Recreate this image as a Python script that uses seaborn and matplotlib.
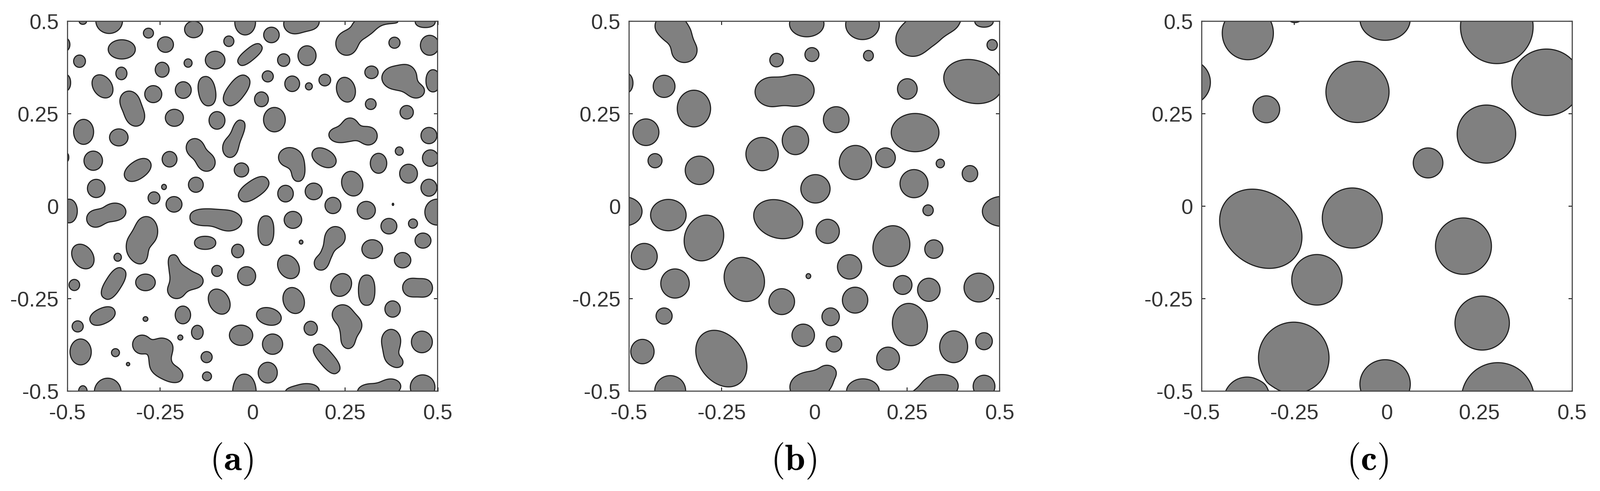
import numpy as np
import pandas as pd
import matplotlib
matplotlib.use("Agg")
import matplotlib.pyplot as plt
import seaborn as sns

# inclusions: (x, y, rx, ry, tilt in deg)
single_a = [
    (-.458, .500, .010, .0083, 0), (-.387, .501, .036, .034, 0), (-.281, .468, .0136, .0133, 0),
    (-.159, .478, .0245, .0225, 0), (-.020, .497, .028, .034, 0), (.051, .463, .021, .021, 0),
    (.466, .499, .027, .016, 0), (-.506, .437, .013, .018, 0), (-.353, .424, .0366, .026, 0),
    (-.235, .437, .0215, .021, 0), (-.064, .446, .0136, .0142, 0), (-.007, .410, .039, .016, 40),
    (.084, .395, .0165, .017, 0), (.147, .407, .0244, .0267, 0), (.383, .442, .015, .015, 0),
    (.478, .435, .025, .027, 0), (-.467, .392, .016, .0167, 0), (-.174, .387, .0108, .0113, 0),
    (-.101, .395, .0265, .024, 0), (-.244, .369, .0187, .0202, 0), (-.354, .359, .015, .017, 0),
    (.041, .351, .015, .015, 0), (.107, .331, .020, .021, 0), (.152, .324, .0093, .0096, 0),
    (.195, .341, .0158, .0158, 0), (.321, .362, .018, .017, 0), (.252, .315, .034, .025, 105),
    (.487, .339, .019, .030, 0), (-.506, .334, .015, .023, 0), (-.405, .324, .034, .025, -55),
    (-.268, .303, .023, .023, 0), (-.187, .314, .0215, .0225, 0), (-.123, .311, .040, .023, 100),
    (-.043, .313, .047, .024, 53), (.024, .289, .0187, .020, 0), (.319, .276, .0145, .0146, 0),
    (.416, .254, .018, .0183, 0), (-.211, .239, .0244, .023, 0), (-.096, .232, .0215, .0238, 0),
    (.059, .234, .0294, .033, 0), (-.456, .201, .027, .0338, 0), (-.361, .186, .025, .023, 0),
    (.476, .191, .0215, .022, 0), (.396, .149, .0108, .0113, 0), (-.430, .123, .025, .026, 0),
    (-.503, .132, .007, .012, 0), (-.224, .127, .020, .021, 0), (-.310, .098, .040, .024, 35),
    (.193, .131, .035, .023, -30), (.340, .116, .0222, .027, 0), (.480, .130, .0215, .0223, 0),
    (-.030, .098, .0195, .019, 0), (.421, .088, .024, .0255, 0), (-.422, .048, .0237, .0246, 0),
    (-.153, .058, .020, .0204, 0), (-.239, .052, .0065, .0071, 0), (.003, .046, .046, .023, 35),
    (.089, .034, .021, .0225, 0), (.165, .040, .023, .0225, 0), (.269, .061, .034, .028, 110),
    (.476, .050, .0215, .023, 0), (-.266, .0225, .016, .0163, 0), (-.212, .005, .0215, .021, 0),
    (.217, .002, .0215, .022, 0), (.307, -.011, .0245, .024, 0), (.379, .005, .002, .003, 0),
    (-.495, -.013, .022, .032, 0), (.498, -.016, .033, .035, 0), (.036, -.066, .0215, .040, 0),
    (.109, -.037, .0237, .023, 0), (.368, -.054, .0215, .021, 0), (.433, -.047, .0122, .0125, 0),
    (-.128, -.099, .0287, .0177, 0), (-.040, -.121, .0165, .0183, 0), (.131, -.097, .005, .0054, 0),
    (.323, -.116, .028, .0254, 0), (.460, -.093, .0215, .0204, 0), (-.458, -.136, .036, .027, -55),
    (-.364, -.138, .010, .0108, 0), (.405, -.146, .0222, .0208, 0), (.097, -.164, .034, .027, -55),
    (-.096, -.175, .0143, .015, 0), (-.016, -.189, .0244, .0254, 0), (-.481, -.213, .0143, .015, 0),
    (-.375, -.209, .047, .022, 58), (-.289, -.206, .0265, .0225, 0), (.239, -.213, .032, .027, 60),
    (.308, -.227, .0222, .041, 0), (-.090, -.258, .036, .027, -60), (.111, -.255, .036, .028, -70),
    (.378, -.278, .0208, .022, 0), (-.405, -.297, .036, .021, 25), (-.188, -.294, .0208, .024, 0),
    (-.289, -.305, .0065, .0063, 0), (.044, -.298, .034, .023, -15), (-.472, -.325, .015, .015, 0),
    (-.149, -.341, .0158, .019, 0), (-.031, -.349, .0315, .0275, 0), (.157, -.330, .018, .019, 0),
    (-.195, -.355, .0068, .0068, 0), (.054, -.373, .0273, .0275, 0), (-.464, -.394, .0287, .035, 0),
    (-.370, -.396, .0108, .0108, 0), (-.336, -.427, .0045, .0046, 0), (.457, -.367, .0283, .0292, 0),
    (.200, -.413, .047, .020, -50), (-.124, -.408, .015, .015, 0), (.041, -.450, .0258, .028, 0),
    (-.123, -.460, .0122, .012, 0), (-.022, -.505, .0318, .051, 0), (-.458, -.500, .0115, .0146, 0),
    (-.391, -.502, .036, .037, 0), (.459, -.489, .0333, .033, 0),
]
merged_a = [
    [(.114, .493, .030, .027, 0), (.150, .499, .030, .024, 0)],
    [(.254, .439, .029, .031, 0), (.297, .478, .050, .023, 35), (.347, .499, .045, .006, 0)],
    [(.391, .347, .042, .0325, 0), (.416, .347, .025, .0325, 0), (.441, .312, .023, .0196, 0)],
    [(-.334, .286, .0237, .025, 0), (-.324, .263, .024, .030, 0), (-.314, .241, .022, .0242, 0)],
    [(.236, .193, .030, .021, 0), (.263, .216, .022, .0225, 0), (.272, .198, .026, .018, 0),
     (.312, .190, .0245, .0245, 0)],
    [(-.041, .199, .035, .016, 70), (-.061, .157, .0194, .025, 0)],
    [(-.156, .159, .022, .023, 0), (-.140, .138, .030, .019, -52), (-.124, .118, .022, .0225, 0)],
    [(.100, .132, .030, .0265, 0), (.123, .099, .0185, .032, 0)],
    [(-.370, -.015, .028, .0225, 0), (-.398, -.025, .030, .018, 20), (-.425, -.034, .022, .0215, 0)],
    [(-.122, -.030, .047, .023, 0), (-.065, -.040, .036, .027, 0)],
    [(-.287, -.068, .031, .040, 0), (-.312, -.109, .029, .040, 0), (-.301, -.136, .013, .0155, 0)],
    [(.224, -.084, .026, .026, 0), (.204, -.118, .045, .016, 68), (.183, -.153, .0145, .0146, 0)],
    [(-.210, -.165, .034, .016, 100), (-.205, -.226, .0245, .0238, 0),
     (-.190, -.193, .025, .030, 0), (-.162, -.202, .0287, .0217, 0)],
    [(.430, -.220, .025, .025, 0), (.462, -.221, .0237, .0245, 0)],
    [(.243, -.293, .028, .0265, 0), (.265, -.322, .030, .030, 0), (.258, -.359, .0195, .026, 0)],
    [(-.298, -.374, .0258, .0255, 0), (-.244, -.380, .027, .0215, 0),
     (-.249, -.405, .029, .037, 0), (-.230, -.447, .044, .024, -25)],
    [(.374, -.364, .0258, .031, 0), (.373, -.401, .018, .025, 0), (.392, -.422, .014, .0135, 0)],
    [(.150, -.500, .030, .0195, 0), (.118, -.505, .030, .0165, 0)],
    [(.373, -.487, .027, .020, 0), (.326, -.504, .043, .0245, 0)],
]

single_b = [
    (-.0205, .493, .0465, .035, 0), (.130, .491, .0455, .0405, 0), (.458, .500, .025, .016, 0),
    (.480, .436, .014, .0146, 0), (-.102, .395, .0182, .0183, 0), (-.0065, .410, .0189, .0188, 0),
    (.146, .407, .0133, .0142, 0), (.428, .337, .080, .058, -15), (-.508, .333, .0185, .027, 0),
    (-.4055, .324, .0294, .030, 0), (.251, .317, .0266, .0277, 0), (-.325, .264, .045, .0496, 0),
    (-.4545, .200, .035, .036, 0), (.059, .234, .0346, .035, 0), (.272, .199, .0644, .0517, 0),
    (-.051, .178, .0357, .0386, 0), (-.141, .141, .0437, .045, 0), (.111, .118, .0437, .0463, 0),
    (.192, .131, .0266, .0267, 0), (.340, .1155, .0112, .0117, 0), (-.430, .123, .0189, .0192, 0),
    (-.310, .097, .0385, .0384, 0), (.420, .088, .021, .0219, 0), (.269, .061, .0378, .038, 0),
    (.003, .047, .0395, .0384, 0), (.307, -.011, .014, .0146, 0), (-.512, -.014, .047, .039, 0),
    (.507, -.014, .0535, .0405, 0), (-.394, -.024, .048, .0424, 0), (-.0975, -.035, .068, .0505, -20),
    (-.298, -.086, .063, .052, 70), (.036, -.068, .0315, .0327, 0), (.208, -.108, .056, .049, 70),
    (.3225, -.116, .0245, .025, 0), (-.459, -.136, .035, .0354, 0), (.095, -.164, .0326, .033, 0),
    (-.189, -.198, .061, .053, -65), (-.376, -.209, .0385, .0394, 0), (-.016, -.189, .0063, .0067, 0),
    (.2385, -.213, .025, .0256, 0), (.309, -.226, .0304, .0313, 0), (.444, -.220, .040, .039, 0),
    (-.088, -.258, .0346, .035, 0), (.110, -.254, .0343, .035, 0), (.258, -.320, .0575, .047, -80),
    (-.4055, -.297, .0217, .0219, 0), (.044, -.299, .0235, .024, 0), (-.030, -.349, .0304, .0302, 0),
    (.053, -.373, .021, .0213, 0), (-.464, -.393, .0315, .033, 0), (-.251, -.412, .083, .061, -55),
    (.199, -.412, .0308, .031, 0), (.376, -.380, .0378, .043, 0), (.458, -.365, .0224, .023, 0),
    (-.389, -.499, .0417, .041, 0), (.131, -.500, .044, .0333, 0), (.458, -.487, .0294, .030, 0),
]
merged_b = [
    [(-.388, .487, .042, .035, 0), (-.367, .462, .036, .030, 0), (-.351, .422, .0345, .0335, 0)],
    [(.262, .451, .042, .044, 0), (.335, .485, .080, .029, 45), (.320, .500, .065, .030, 0)],
    [(-.113, .309, .047, .040, 0), (-.053, .313, .0525, .043, 0)],
    [(.034, -.451, .0252, .021, 0), (-.015, -.489, .051, .040, 0), (.010, -.476, .035, .025, 0)],
    [(.3386, -.485, .0455, .0285, 0), (.310, -.510, .065, .030, 25)],
]

single_c = [
    (-.375, .468, .069, .072, 0), (-.248, .512, .020, .0155, 0), (-.0045, .505, .0677, .0565, 0),
    (.297, .485, .098, .0995, 0), (.431, .335, .0935, .0899, 0), (-.537, .335, .061, .061, 0),
    (-.325, .262, .036, .0364, 0), (-.079, .309, .0852, .0827, 0), (.269, .195, .079, .0785, 0),
    (.1115, .117, .040, .0405, 0), (-.340, -.061, .120, .097, -40), (-.093, -.032, .081, .0813, 0),
    (.207, -.108, .0755, .0762, 0), (-.1885, -.199, .068, .0683, 0), (.2575, -.316, .0734, .073, 0),
    (-.0045, -.481, .068, .066, 0), (.2997, -.521, .098, .098, 0),
]
merged_c = [
    [(-.251, -.410, .0952, .0965, 0), (-.377, -.525, .063, .063, 0)],
]

panels = ["a", "b", "c"]
ticks = [-0.5, -0.25, 0, 0.25, 0.5]
tick_labels = ["-0.5", "-0.25", "0", "0.25", "0.5"]
captions = [r"$(\mathbf{a})$", r"$(\mathbf{b})$", r"$(\mathbf{c})$"]

# one row per ellipse, ellipses with the same blob id get melted together
rows = []
blob_id = 0
for name, single, merged in zip(panels, [single_a, single_b, single_c], [merged_a, merged_b, merged_c]):
    for blob in [[s] for s in single] + merged:
        for x, y, rx, ry, tilt in blob:
            rows.append((name, blob_id, x, y, rx, ry, tilt))
        blob_id += 1
df = pd.DataFrame(rows, columns=["panel", "blob", "x", "y", "rx", "ry", "tilt"])

sns.set_theme(style="white")
plt.rcParams["font.family"] = ["Liberation Sans", "DejaVu Sans"]
plt.rcParams["mathtext.fontset"] = "cm"

grid = np.linspace(-0.53, 0.53, 1200)
X, Y = np.meshgrid(grid, grid)


def ellipse_dist(row):
    t = np.deg2rad(row.tilt)
    dx, dy = X - row.x, Y - row.y
    u = np.abs(dx * np.cos(t) + dy * np.sin(t)) / row.rx
    v = np.abs(-dx * np.sin(t) + dy * np.cos(t)) / row.ry
    # long drops are closer to capsules than to true ellipses
    ratio = max(row.rx, row.ry) / min(row.rx, row.ry)
    p = 2 + np.clip((ratio - 1.4) * 0.7, 0, 0.6)
    return ((u ** p + v ** p) ** (1 / p) - 1) * min(row.rx, row.ry)


def draw_blobs(data, **kws):
    ax = plt.gca()
    k = 0.02
    field = np.full(X.shape, 10.0)
    for _, part in data.groupby("blob"):
        d = None
        for row in part.itertuples():
            e = ellipse_dist(row)
            if d is None:
                d = e
            else:
                # smooth min so the lobes join with a neck
                h = np.clip(0.5 + 0.5 * (e - d) / k, 0, 1)
                d = e * (1 - h) + d * h - k * h * (1 - h)
        field = np.minimum(field, d)
    ax.contourf(X, Y, field, levels=[-10, 0], colors="#808080")
    ax.contour(X, Y, field, levels=[0], colors="#1a1a1a", linewidths=0.55)


g = sns.FacetGrid(df, col="panel", col_order=panels, despine=False, sharex=False, sharey=False)
g.map_dataframe(draw_blobs)
g.set_titles("")
g.set_axis_labels("", "")

fig = g.figure
fig.set_size_inches(3459 / 300, 1062 / 300)
fig.set_dpi(300)

lefts = [145.5, 1360, 2597.5]
caption_x = [500, 1716, 2956]
W, H = 3459.0, 1062.0
for ax, left, cap, cx in zip(g.axes.flat, lefts, captions, caption_x):
    ax.set_position([left / W, 1 - 846 / H, 801 / W, 800 / H])
    ax.set_xlim(-0.5, 0.5)
    ax.set_ylim(-0.5, 0.5)
    ax.set_xticks(ticks, tick_labels)
    ax.set_yticks(ticks, tick_labels)
    ax.tick_params(direction="in", length=1.9, width=0.5, color="#262626", labelcolor="#333333",
                   labelsize=11, top=True, right=True, bottom=True, left=True, pad=4.5)
    ax.tick_params(axis="x", pad=6.5)
    ax.grid(False)
    for s in ax.spines.values():
        s.set_color("#404040")
        s.set_linewidth(0.55)
    fig.text(cx / W, 1 - 997 / H, cap, fontsize=19, color="black", ha="center", va="center")

fig.savefig("out.png", dpi=300)
